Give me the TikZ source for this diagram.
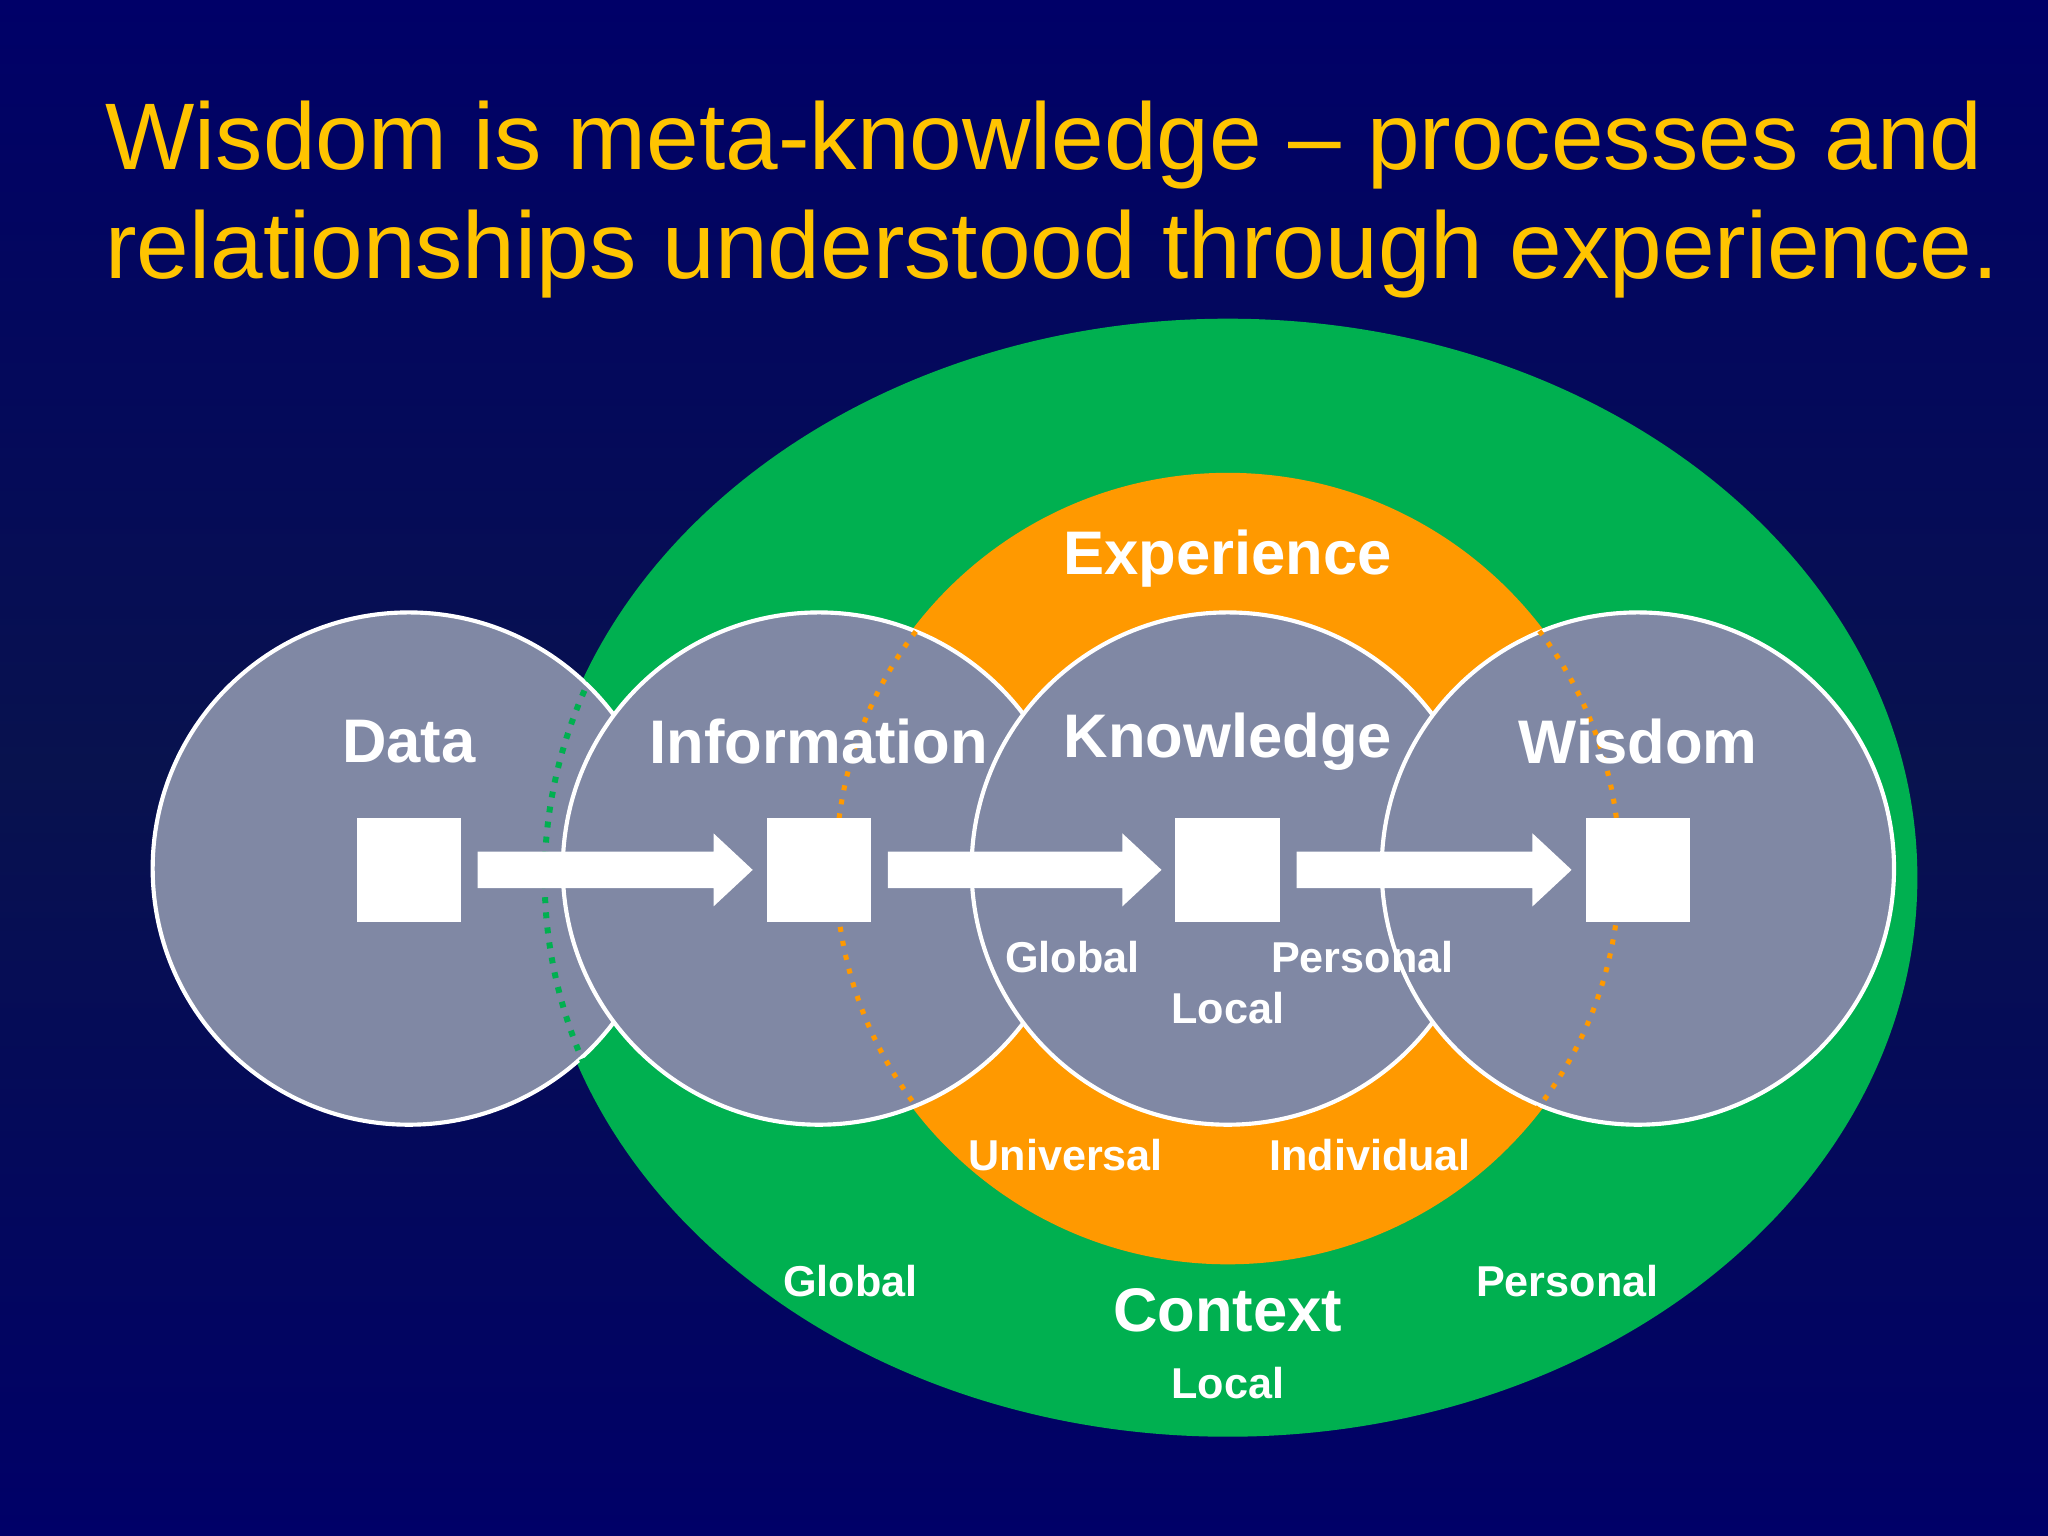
\documentclass[tikz,border=0pt]{standalone}
\usepackage{fontspec}
\setmainfont{Liberation Sans}
\usetikzlibrary{calc}
\definecolor{navy}{RGB}{0,0,104}
\definecolor{navymid}{RGB}{8,18,78}
\definecolor{gold}{RGB}{255,196,0}
\definecolor{ctxgreen}{RGB}{0,176,80}
\definecolor{exporange}{RGB}{255,153,0}
\definecolor{disc}{RGB}{128,136,164}
\tikzset{
  disk/.style={circle,draw=white,line width=0.9pt,fill=disc,minimum size=3.92cm,inner sep=0pt},
  sq/.style={fill=white,minimum size=0.8cm,inner sep=0pt},
  big/.style={text=white,font=\fontsize{13.4pt}{15pt}\selectfont\bfseries},
  small/.style={text=white,font=\fontsize{9.4pt}{11pt}\selectfont\bfseries},
  blockarrow/.style={fill=white}
}
\begin{document}
\begin{tikzpicture}[x=0.01cm,y=-0.01cm]
\shade[top color=navy,bottom color=navy,middle color=navymid] (0,0) rectangle (1568,1176);
\useasboundingbox (0,0) rectangle (1568,1176);
\node[anchor=base west,text=gold,font=\fontsize{20.6pt}{24pt}\selectfont,inner sep=0pt] (t1) at (80,130) {Wisdom is meta-knowledge -- processes and};
\node[anchor=base west,text=gold,font=\fontsize{20.6pt}{24pt}\selectfont,inner sep=0pt] (t2) at (80,213) {relationships understood through experience.};
\fill[ctxgreen] (940,672) ellipse [x radius=528,y radius=428];
\fill[exporange] (940,665) circle [radius=303];
\node[disk] (d) at (313,665) {};
\node[disk] (i) at (627,665) {};
\node[disk] (k) at (940,665) {};
\node[disk] (w) at (1254,665) {};
\draw[ctxgreen,line width=1.3pt,dotted] (940,672) ellipse [x radius=523,y radius=425];
\draw[exporange,line width=1.1pt,dotted] (940,665) circle [radius=300];
\node[sq] (sd) at (313,666) {};
\node[sq] (si) at (627,666) {};
\node[sq] (sk) at (940,666) {};
\node[sq] (sw) at (1254,666) {};
\foreach \a/\b in {sd/si,si/sk,sk/sw}{
  \fill[blockarrow] ($(\a.east)+(12,-14)$) -- ($(\b.west)+(-40,-14)$) -- ($(\b.west)+(-40,-28)$) -- ($(\b.west)+(-10,0)$) -- ($(\b.west)+(-40,28)$) -- ($(\b.west)+(-40,14)$) -- ($(\a.east)+(12,14)$) -- cycle;
}
\node[big] (ld) at (313,568) {Data};
\node[big] (li) at (627,568) {Information};
\node[big] (lk) at (940,568) {Knowledge};
\node[big] (lw) at (1254,568) {Wisdom};
\node[big] (le) at (940,428) {Experience};
\node[big] (lc) at (940,1003) {Context};
\node[small] (g1) at (821,733) {Global};
\node[small] (l1) at (940,772) {Local};
\node[small] (p1) at (1043,733) {Personal};
\node[small] (u) at (816,884) {Universal};
\node[small] (in) at (1049,884) {Individual};
\node[small] (g2) at (651,981) {Global};
\node[small] (p2) at (1200,981) {Personal};
\node[small] (l2) at (940,1059) {Local};
\end{tikzpicture}
\end{document}
